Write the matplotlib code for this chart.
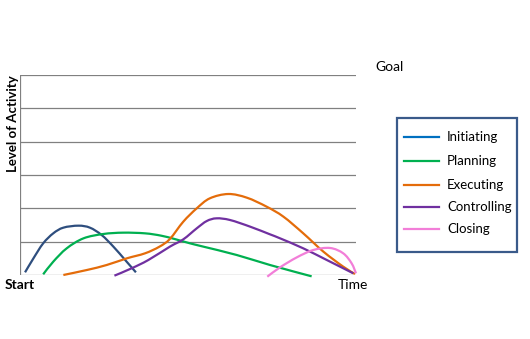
import matplotlib
matplotlib.use("Agg")
import matplotlib.pyplot as plt
from matplotlib.lines import Line2D
from matplotlib.patches import Rectangle, PathPatch
from matplotlib.path import Path

# Фазы проекта: точки (x: 0..100 — время, y: 0..6 — уровень)
phases = ["Initiating", "Planning", "Executing", "Controlling", "Closing"]
curve_colors = ["#2E4E7E", "#00B050", "#E46C0A", "#7030A0", "#F27ED8"]
legend_colors = ["#0070C0", "#00B050", "#E46C0A", "#7030A0", "#F27ED8"]

init_x = [1.5, 4.0, 6.9, 9.9, 12.9, 17.4, 20.8, 24.3, 27.8, 31.3, 34.5]
init_y = [0.08, 0.5, 0.95, 1.25, 1.42, 1.48, 1.42, 1.2, 0.85, 0.45, 0.08]

plan_x = [6.9, 9.9, 13.9, 18.9, 24.8, 30.7, 37.2, 42.0, 46.0, 50.6, 54.6,
          64.5, 74.4, 86.8]
plan_y = [0.02, 0.4, 0.8, 1.1, 1.23, 1.27, 1.25, 1.18, 1.08, 0.95, 0.85,
          0.6, 0.3, -0.04]

exec_x = [12.9, 19.9, 25.8, 31.8, 37.2, 41.5, 44.6, 48.6, 52.6, 56.5, 62.0,
          67.5, 73.4, 78.4, 84.3, 90.3, 96.2, 99.7]
exec_y = [0.0, 0.15, 0.3, 0.5, 0.65, 0.85, 1.08, 1.6, 2.0, 2.3, 2.43,
          2.32, 2.05, 1.75, 1.25, 0.7, 0.25, 0.03]

ctrl_x = [28.1, 33.2, 38.2, 44.6, 48.6, 52.6, 55.6, 58.5, 62.5, 68.5, 74.4,
          77.4, 84.3, 91.3, 99.2]
ctrl_y = [-0.02, 0.2, 0.45, 0.85, 1.07, 1.4, 1.62, 1.7, 1.65, 1.45, 1.22,
          1.1, 0.8, 0.45, 0.05]

close_x = [73.6, 77.4, 82.4, 87.3, 92.3, 96.2, 98.7, 100.0]
close_y = [-0.05, 0.23, 0.53, 0.75, 0.81, 0.65, 0.35, 0.05]

series = [(init_x, init_y), (plan_x, plan_y), (exec_x, exec_y),
          (ctrl_x, ctrl_y), (close_x, close_y)]


def smooth_path(xs, ys, k=1 / 6):
    # кривая Безье через точки (как сглаженная линия в Excel)
    pts = list(zip(xs, ys))
    verts = [pts[0]]
    codes = [Path.MOVETO]
    n = len(pts)
    for i in range(n - 1):
        p0 = pts[max(i - 1, 0)]
        p1 = pts[i]
        p2 = pts[i + 1]
        p3 = pts[min(i + 2, n - 1)]
        c1 = (p1[0] + (p2[0] - p0[0]) * k, p1[1] + (p2[1] - p0[1]) * k)
        c2 = (p2[0] - (p3[0] - p1[0]) * k, p2[1] - (p3[1] - p1[1]) * k)
        verts += [c1, c2, p2]
        codes += [Path.CURVE4] * 3
    return Path(verts, codes)


plt.rcParams['font.family'] = ['Lato', 'DejaVu Sans']

fig = plt.figure(figsize=(5.3, 3.39), dpi=100)
W, H = 530, 339
ax = fig.add_axes([20 / W, (H - 275) / H, 336 / W, 200 / H])
ax.set_xlim(0, 100)
ax.set_ylim(0, 6)

# сетка
for lvl in range(7):
    ax.axhline(lvl, color="#808080", lw=0.9, zorder=1)
ax.axvline(0, color="#808080", lw=0.9, zorder=1)

for (xs, ys), c in zip(series, curve_colors):
    ax.add_patch(PathPatch(smooth_path(xs, ys), facecolor="none",
                           edgecolor=c, lw=1.6, zorder=3, clip_on=False,
                           capstyle="butt"))

for s in ax.spines.values():
    s.set_visible(False)
ax.set_xticks([])
ax.set_yticks([])

# подписи
fig.text(13 / W, 1 - 75 / H, "Level of Activity", rotation=90, ha="center",
         va="top", fontsize=9.5, fontweight="bold")
fig.text(5 / W, 1 - 285 / H, "Start", ha="left", va="center", fontsize=10,
         fontweight="bold")
fig.text(338 / W, 1 - 285 / H, "Time", ha="left", va="center", fontsize=10)
fig.text(375 / W, 1 - 67 / H, "Goal", ha="left", va="center", fontsize=10)

# легенда
box = Rectangle((397 / W, 1 - 252 / H), 120 / W, 134 / H,
                transform=fig.transFigure, fill=False,
                edgecolor="#3A5A8A", lw=1.6)
fig.patches.append(box)
rows = [137, 161, 185, 207, 229]
for name, c, yy in zip(phases, legend_colors, rows):
    fig.lines.append(Line2D([404 / W, 439 / W], [1 - yy / H, 1 - yy / H],
                            transform=fig.transFigure, color=c, lw=1.6))
    fig.text(447 / W, 1 - yy / H, name, ha="left", va="center", fontsize=9.5)

fig.savefig("out.png", dpi=100)
